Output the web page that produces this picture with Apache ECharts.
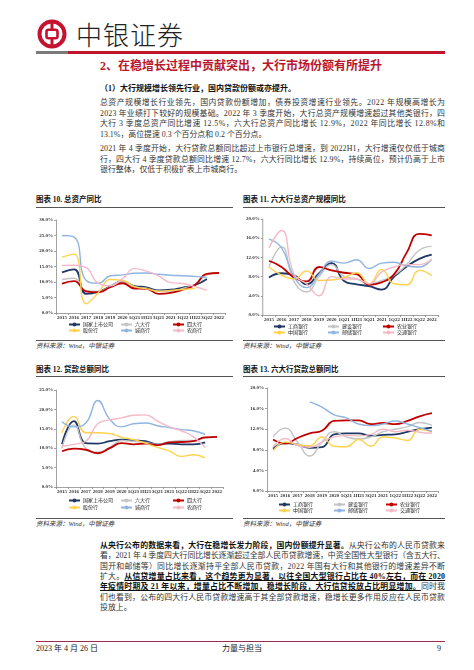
<!DOCTYPE html>
<html><head><meta charset="utf-8">
<script src="https://cdn.jsdelivr.net/npm/echarts@6/dist/echarts.min.js"></script>
<style>
html,body{margin:0;padding:0;background:#fff;}
#page{position:relative;width:474px;height:670px;overflow:hidden;font-family:"Liberation Serif","Noto Sans CJK SC",serif;color:#333;}
.abs{position:absolute;white-space:nowrap;}
.ln{position:absolute;left:100px;font-size:7.9px;line-height:10px;height:10px;white-space:nowrap;text-align:left;}
.b{font-weight:bold;color:#111;}
.u{text-decoration:underline;}
.ct{position:absolute;font-size:7.5px;line-height:10px;font-weight:bold;color:#111;white-space:nowrap;}
.hr{position:absolute;height:0;border-top:0.8px solid #555;}
.src{position:absolute;font-size:6.5px;line-height:9px;font-style:italic;color:#333;white-space:nowrap;}
.chart{position:absolute;}
</style></head>
<body><div id="page">
<svg class="abs" width="30" height="30" style="left:37px;top:19px" viewBox="0 0 30 30">
<circle cx="15" cy="15" r="12.5" fill="none" stroke="#c41230" stroke-width="4"/>
<rect x="9.5" y="10.8" width="11" height="8.4" rx="2" fill="none" stroke="#c41230" stroke-width="2.6"/>
<line x1="15" y1="2" x2="15" y2="10.8" stroke="#c41230" stroke-width="3"/>
<line x1="15" y1="19.2" x2="15" y2="28" stroke="#c41230" stroke-width="3"/>
</svg>
<div class="abs" style="left:76px;top:18px;font-size:26px;line-height:32px;font-family:'Noto Sans CJK SC';font-weight:300;color:#222;letter-spacing:1px;">中银证券</div>
<div class="abs" style="left:36px;top:51px;width:32px;height:3px;background:#7a7a7a;"></div>
<div class="abs" style="left:68px;top:51px;width:377px;height:3px;background:#c0142c;"></div>
<div class="abs" style="left:100px;top:59px;font-size:12px;line-height:14px;font-weight:bold;color:#b8172e;">2、在稳增长过程中贡献突出，大行市场份额有所提升</div>
<div class="abs b" style="left:100px;top:84px;font-size:8px;line-height:10px;">（1）大行规模增长领先行业，国内贷款份额或亦提升。</div>

<div class="ln j" style="top:98px;">总资产规模增长行业领先，国内贷款份额增加，债券投资增速行业领先。2022 年规模高增长为</div>
<div class="ln j" style="top:108.5px;">2023 年业绩打下较好的规模基础。2022 年 3 季度开始，大行总资产规模增速超过其他类银行，四</div>
<div class="ln j" style="top:119px;">大行 3 季度总资产同比增速 12.5%，六大行总资产同比增长 12.9%，2022 年同比增长 12.8%和</div>
<div class="ln" style="top:129.5px;">13.1%，高位提速 0.3 个百分点和 0.2 个百分点。</div>
<div class="ln j" style="top:144px;">2021 年 4 季度开始，大行贷款总额同比超过上市银行总增速，到 2022H1，大行增速仅仅低于城商</div>
<div class="ln j" style="top:154.5px;">行，四大行 4 季度贷款总额同比增速 12.7%，六大行同比增长 12.9%，持续高位，预计仍高于上市</div>
<div class="ln" style="top:165px;">银行整体，仅低于积极扩表上市城商行。</div>

<div class="ct" style="left:36px;top:195px;">图表 10. 总资产同比</div>
<div class="ct" style="left:243px;top:195px;">图表 11. 六大行总资产规模同比</div>
<div class="hr" style="left:36px;top:206.5px;width:197px;"></div>
<div class="hr" style="left:243px;top:206.5px;width:202px;"></div>
<div id="c10" class="chart" style="left:36px;top:208px;width:197px;height:131px;"></div>
<div id="c11" class="chart" style="left:243px;top:208px;width:202px;height:131px;"></div>
<div class="hr" style="left:36px;top:340px;width:197px;"></div>
<div class="hr" style="left:243px;top:340px;width:202px;"></div>
<div class="src" style="left:36px;top:341px;">资料来源：Wind，中银证券</div>
<div class="src" style="left:243px;top:341px;">资料来源：Wind，中银证券</div>

<div class="ct" style="left:36px;top:365px;">图表 12. 贷款总额同比</div>
<div class="ct" style="left:243px;top:365px;">图表 13. 六大行贷款总额同比</div>
<div class="hr" style="left:36px;top:375.5px;width:197px;"></div>
<div class="hr" style="left:243px;top:375.5px;width:202px;"></div>
<div id="c12" class="chart" style="left:36px;top:376px;width:197px;height:141px;"></div>
<div id="c13" class="chart" style="left:243px;top:376px;width:202px;height:141px;"></div>
<div class="hr" style="left:36px;top:518px;width:197px;"></div>
<div class="hr" style="left:243px;top:518px;width:202px;"></div>
<div class="src" style="left:36px;top:519px;">资料来源：Wind，中银证券</div>
<div class="src" style="left:243px;top:519px;">资料来源：Wind，中银证券</div>

<div class="ln j" style="top:541px;"><span class="b">从央行公布的数据来看，大行在稳增长发力阶段，国内份额提升显著。</span>从央行公布的人民币贷款来</div>
<div class="ln j" style="top:551.3px;">看，2021 年 4 季度四大行同比增长逐渐超过全部人民币贷款增速，中资全国性大型银行（含五大行、</div>
<div class="ln j" style="top:561.6px;">国开和邮储等）同比增长逐渐持平全部人民币贷款，2022 年国有大行和其他银行的增速差异不断</div>
<div class="ln j" style="top:572px;">扩大。<span class="b u">从信贷增量占比来看，这个趋势更为显著，以往全国大型银行占比在 40%左右，而在 2020</span></div>
<div class="ln j" style="top:582.3px;"><span class="b u">年疫情时期及 21 年以来，增量占比不断增加，稳增长阶段，大行信贷投放占比明显增加。</span>同时我</div>
<div class="ln j" style="top:592.6px;">们也看到，公布的四大行人民币贷款增速高于其全部贷款增速，稳增长更多作用反应在人民币贷款</div>
<div class="ln" style="top:603px;">投放上。</div>

<div class="abs" style="left:36px;top:641px;width:409px;height:1.2px;background:#9e2a4e;"></div>
<div class="abs" style="left:36px;top:644px;font-size:8px;line-height:10px;color:#222;">2023 年 4 月 26 日</div>
<div class="abs" style="left:222px;top:644px;font-size:8px;line-height:10px;color:#222;">力量与担当</div>
<div class="abs" style="left:437px;top:644px;font-size:8px;line-height:10px;color:#222;">9</div>
</div>
<script>
// justify each full text line to 345px by adjusting letter spacing
(function () {
  var TARGET = 345;
  var lines = document.querySelectorAll('.ln.j');
  for (var i = 0; i < lines.length; i++) {
    var el = lines[i];
    var w = el.getBoundingClientRect().width;
    var n = el.textContent.length;
    if (n > 1) el.style.letterSpacing = ((TARGET - w) / (n - 1)) + 'px';
  }
})();

var cats = ['2015','2016','2017','2018','2019','2020','1Q21','1H21','3Q21','2021','1Q22','1H22','3Q22','2022'];
var groupNames = ['国家上市公司','六大行','四大行','股份行','城商行','农商行'];
var bankNames = ['工商银行','建设银行','农业银行','中国银行','邮储银行','交通银行'];

// 图表10 总资产同比 (%)
var c10_listed = [13.1, 14.1, 6.2, 6.8, 8.6, 10.2, 8.7, 8.3, 7.3, 7.5, 8.2, 9.0, 11.0, null];
var c10_six    = [10.8, 11.2, 7.2, 7.0, 8.6, 10.3, 8.4, 8.0, 7.0, 7.0, 7.9, 9.2, 12.3, 13.0];
var c10_four   = [9.5, 10.3, 7.0, 6.7, 8.3, 9.6, 7.9, 7.8, 6.2, 6.5, 7.5, 9.0, 12.6, 12.9];
var c10_joint  = [18.0, 19.0, 3.0, 6.5, 10.8, 10.5, 8.5, 7.8, 7.0, 7.3, 7.6, 8.0, null, null];
var c10_city   = [25.0, 24.5, 10.5, 9.6, 12.0, 12.3, 12.8, 12.9, 12.5, 12.2, 12.0, 11.8, 11.5, null];
var c10_rural  = [15.3, 15.4, 14.6, 9.6, 8.8, 11.0, 14.3, 13.5, 12.0, 9.8, 9.5, 8.5, 7.4, null];
var ticks10 = [0, 5, 10, 15, 20, 25, 30];

// 图表11 六大行总资产规模同比 (%)
var c11_icbc  = [7.8, 8.7, 8.3, 6.4, 8.7, 10.8, 7.1, 6.4, 6.0, 5.3, 8.0, 10.1, 11.7, 12.6];
var c11_ccb   = [10.0, 14.2, 7.0, 4.8, 8.0, 10.5, 8.0, 7.5, 6.5, 7.2, 8.3, 10.5, 13.5, 14.3];
var c11_abc   = [11.3, 10.0, 7.8, 7.0, 10.0, 9.3, 8.8, 8.5, 6.3, 6.8, 8.5, 13.0, 16.9, 16.6];
var c11_boc   = [10.0, 8.3, 7.5, 9.2, 7.2, 7.3, 7.8, 8.8, 6.5, 9.5, 6.5, 6.3, 9.3, 8.2];
var c11_psbc  = [15.8, 14.0, 8.0, 5.7, 8.5, 11.2, 10.8, 11.5, 9.7, 10.8, 11.0, 10.2, 10.0, 11.6];
var c11_bocom = [14.0, 17.6, 8.5, 6.5, 4.0, 8.0, 7.5, 7.5, 6.5, 9.0, 10.0, 10.5, 10.5, 11.6];
var ticks11 = [0, 4, 8, 12, 16, 20];

// 图表12 贷款总额同比 (%)
var c12_listed = [11.0, 17.0, 11.3, 11.2, 11.8, 12.2, 12.0, 11.8, 11.0, 11.2, 11.0, 11.0, 11.5, null];
var c12_six    = [10.0, 16.0, 10.0, 9.0, 10.2, 12.0, 11.8, 11.5, 11.0, 11.6, 12.0, 12.0, 12.6, 12.9];
var c12_four   = [9.2, 9.9, 9.6, 8.7, 10.0, 11.3, 11.0, 11.2, 10.8, 11.5, 11.6, 11.8, 12.8, 12.9];
var c12_joint  = [14.0, 18.2, 14.0, 14.0, 13.8, 12.8, 12.2, 11.3, 10.2, 9.3, 7.9, 8.3, 7.5, null];
var c12_city   = [16.8, 15.5, 16.5, 22.3, 17.5, 15.5, 16.3, 16.5, 15.8, 15.3, 14.8, 14.5, 13.6, null];
var c12_rural  = [10.5, 11.0, 11.8, 16.3, 17.3, 17.8, 18.5, 18.6, 17.0, 15.5, 14.5, 13.0, 10.2, null];
var ticks12 = [0, 5, 10, 15, 20, 25];

// 图表13 六大行贷款总额同比 (%)
var c13_icbc  = [8.2, 9.3, 9.0, 8.4, 8.5, 11.0, 11.2, 11.2, 10.7, 10.9, 11.0, 11.5, 12.0, 12.3];
var c13_ccb   = [10.5, 12.2, 9.5, 6.8, 9.5, 11.5, 10.5, 10.1, 10.5, 11.5, 12.0, 12.5, 13.3, 12.8];
var c13_abc   = [10.0, 9.2, 10.3, 11.2, 11.7, 13.6, 13.7, 13.7, 13.0, 13.2, 13.0, 13.6, 14.5, 15.1];
var c13_boc   = [7.8, 9.5, 9.0, 8.8, 10.5, 8.7, 8.6, 10.0, 8.7, 10.5, 10.3, 9.8, 12.0, 11.5];
var c13_psbc  = [null, null, null, 17.3, 16.3, 14.8, 14.2, 13.0, 12.7, 13.0, 13.6, 13.0, 12.3, 11.6];
var c13_bocom = [8.5, 10.2, 8.8, 8.5, 9.5, 10.5, 10.8, 10.7, 11.0, 12.0, 11.5, 11.8, 11.4, 11.2];
var ticks13 = [0, 4, 8, 12, 16, 20];

var lineColors = ['#1f3864', '#c4c4c4', '#c00000', '#ffd24d', '#8fb4e0', '#f5b9c6'];
var lineWidths = [1.8, 1.4, 1.8, 1.4, 1.4, 1.4];
var NUMFONT = 'Liberation Serif';
var CJKFONT = '"Liberation Serif","Noto Sans CJK SC"';

function build(id, names, dataSets, ticks, grid, cols, rows) {
  var chart = echarts.init(document.getElementById(id));
  var legends = names.map(function (n, i) {
    return {
      data: [n], left: cols[i % 3], top: rows[Math.floor(i / 3)],
      itemWidth: 11, itemHeight: 5, padding: 0, selectedMode: false,
      textStyle: { fontSize: 5, color: '#222', fontFamily: CJKFONT, padding: [0, 0, 0, -2] }
    };
  });
  var series = names.map(function (n, i) {
    return {
      type: 'line', name: n, data: dataSets[i], smooth: true, symbol: 'none',
      connectNulls: false,
      lineStyle: { color: lineColors[i], width: lineWidths[i] },
      itemStyle: { color: lineColors[i] }
    };
  });
  chart.setOption({
    animation: false,
    grid: grid,
    legend: legends,
    xAxis: {
      type: 'category', data: cats, boundaryGap: true,
      axisLine: { lineStyle: { color: '#8a8a8a', width: 0.8 } },
      axisTick: { show: true, length: 2, lineStyle: { color: '#8a8a8a', width: 0.8 } },
      axisLabel: { interval: 0, fontSize: 5, fontWeight: 'bold', fontFamily: NUMFONT, color: '#333', margin: 2 }
    },
    yAxis: {
      type: 'value', min: ticks[0], max: ticks[ticks.length - 1], interval: ticks[1] - ticks[0],
      axisLine: { show: true, lineStyle: { color: '#8a8a8a', width: 0.8 } },
      axisTick: { show: true, length: 2, lineStyle: { color: '#8a8a8a', width: 0.8 } },
      splitLine: { show: false },
      axisLabel: { fontSize: 5, fontWeight: 'bold', fontFamily: NUMFONT, color: '#333', margin: 3,
        formatter: function (v) { return v.toFixed(1) + '%'; } }
    },
    series: series
  });
}

build('c10', groupNames, [c10_listed, c10_six, c10_four, c10_joint, c10_city, c10_rural], ticks10,
  { left: 20, right: 8, top: 12, bottom: 26 }, [32, 84, 136], [114, 120]);
build('c11', bankNames, [c11_icbc, c11_ccb, c11_abc, c11_boc, c11_psbc, c11_bocom], ticks11,
  { left: 19, right: 7, top: 11, bottom: 24 }, [30, 84, 139], [116, 122]);
build('c12', groupNames, [c12_listed, c12_six, c12_four, c12_joint, c12_city, c12_rural], ticks12,
  { left: 20, right: 10, top: 14, bottom: 30 }, [32, 84, 136], [122, 129]);
build('c13', bankNames, [c13_icbc, c13_ccb, c13_abc, c13_boc, c13_psbc, c13_bocom], ticks13,
  { left: 24, right: 7, top: 12, bottom: 26 }, [35, 90, 142], [126, 132]);
</script>
</body></html>
